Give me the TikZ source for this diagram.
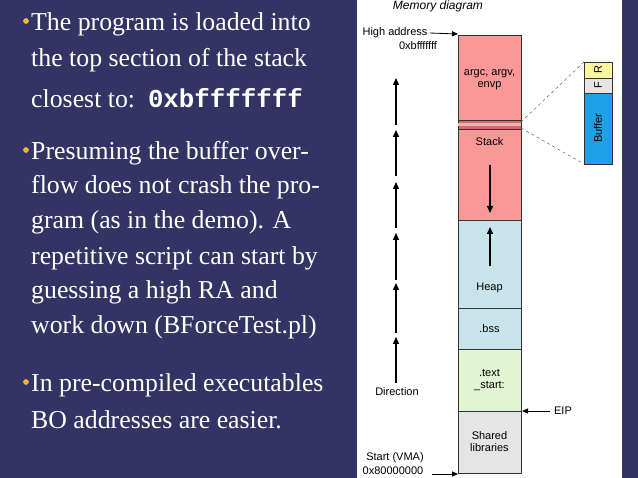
\documentclass[tikz,border=0pt]{standalone}
\usepackage{fontspec}
\setmainfont{Liberation Serif}
\newfontfamily\arialf{Liberation Sans}
\newfontfamily\courf{Liberation Mono}
\usetikzlibrary{arrows.meta}
\definecolor{bg}{RGB}{51,52,100}
\definecolor{stk}{RGB}{250,152,152}
\definecolor{band}{RGB}{205,110,110}
\definecolor{hp}{RGB}{200,228,234}
\definecolor{txt}{RGB}{226,246,212}
\definecolor{shr}{RGB}{229,229,229}
\definecolor{buf}{RGB}{30,160,232}
\definecolor{ry}{RGB}{250,245,160}
\tikzset{x=1pt,y=-1pt,
 para/.style={anchor=west,text=white,font=\fontsize{25.8}{24}\selectfont,inner sep=0},
 seg/.style={draw=black!80,line width=0.6pt},
 lab/.style={font=\arialf\fontsize{11}{12}\selectfont,align=center,inner sep=0},
 arr/.style={-{Triangle[length=7pt,width=6pt]},line width=1.4pt},
 sarr/.style={-{Triangle[length=6pt,width=5pt]},line width=0.8pt},
 bul/.style={fill=orange!60!yellow,draw=white!70!gray,circle,inner sep=0,minimum size=5pt}}
\begin{document}
\begin{tikzpicture}
\useasboundingbox (0,0) rectangle (638,478);
\fill[bg] (0,0) rectangle (638,478);
\fill[white] (357,0) rectangle (622,478);
% text
\foreach \y in {24,153,385} \node[bul] at (26,\y-3) {};
\node[para] (t1) at (31,24) {The program is loaded into};
\node[para] (t2) at (31,60) {the top section of the stack};
\node[para] (t3) at (31,98) {closest to:\ \ {\courf\bfseries 0xbfffffff}};
\node[para] (t4) at (31,153) {Presuming the buffer over-};
\node[para] (t5) at (31,187) {flow does not crash the pro-};
\node[para] (t6) at (31,222) {gram (as in the demo). A};
\node[para] (t7) at (31,258) {repetitive script can start by};
\node[para] (t8) at (31,292) {guessing a high RA and};
\node[para] (t9) at (31,327) {work down (BForceTest.pl)};
\node[para] (t10) at (31,385) {In pre-compiled executables};
\node[para] (t11) at (31,420) {BO addresses are easier.};
% memory
\filldraw[seg,fill=stk] (458,35) rectangle (521,120);
\filldraw[seg,fill=band] (458,120) rectangle (521,129);
\fill[stk!80!white] (458,123) rectangle (521,126);
\filldraw[seg,fill=stk] (458,129) rectangle (521,220);
\filldraw[seg,fill=hp] (458,220) rectangle (521,308);
\filldraw[seg,fill=hp] (458,308) rectangle (521,349);
\filldraw[seg,fill=txt] (458,349) rectangle (521,411);
\filldraw[seg,fill=shr] (458,411) rectangle (521,473);
\node[lab] (argc) at (489.5,80) {argc, argv,\\envp};
\node[lab] (stack) at (489.5,142) {Stack};
\node[lab] (heap) at (489.5,288) {Heap};
\node[lab] (bss) at (489.5,329) {.bss};
\node[lab] (text) at (489.5,380) {.text\\\_start:};
\node[lab] (shared) at (489.5,442) {Shared\\libraries};
\draw[arr] (490,165) -- (490,213);
\draw[arr] (490,266) -- (490,227);
% buffer
\filldraw[seg,fill=ry] (584,62) rectangle (612,78);
\filldraw[seg,fill=shr] (584,78) rectangle (612,93);
\filldraw[seg,fill=buf] (584,93) rectangle (612,164);
\node[lab,rotate=90] (R) at (598,70) {R};
\node[lab,rotate=90] (F) at (598,85.5) {F};
\node[lab,rotate=90] (B) at (598,128) {Buffer};
\draw[dashed,black!70] (521,122) -- (584,62);
\draw[dashed,black!70] (521,128) -- (584,164);
% labels
\node[lab,font=\arialf\itshape\fontsize{12}{12}\selectfont] (md) at (438,6) {Memory diagram};
\node[lab] (ha) at (395,33) {High address};
\node[lab] (hx) at (418,46) {0xbfffffff};
\draw[sarr] (ha.east)+(2,0) -- (458,34);
\node[lab] (sv) at (395,458) {Start (VMA)};
\node[lab] (sx) at (393,471) {0x80000000};
\draw[sarr] (432,474) -- (458,474);
\node[lab] (eip) at (563,411) {EIP};
\draw[sarr] (eip.west)+(-4,0) -- (522,411);
\node[lab] (dir) at (397,392) {Direction};
\foreach \a/\b in {383/337,333/283,280/233,228/182,176/130,125/78}
 \draw[arr] (396,\a) -- (396,\b);
\end{tikzpicture}
\end{document}
